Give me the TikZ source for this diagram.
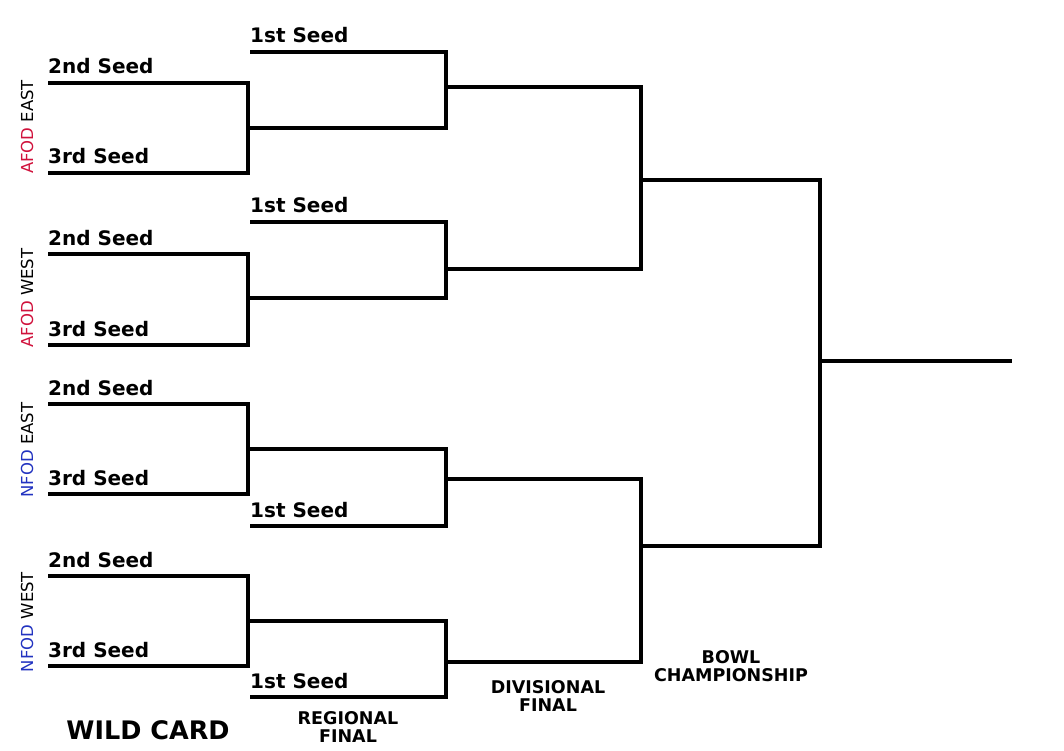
\documentclass[tikz,border=0pt]{standalone}
\usepackage{fontspec}
\setmainfont{DejaVu Sans}
\definecolor{afod}{HTML}{D0123C}
\definecolor{nfod}{HTML}{2233C0}
\begin{document}
\begin{tikzpicture}[x=1pt,y=-1pt,
  bline/.style={line width=4.8pt,line join=miter,line cap=butt},
  seed/.style={anchor=base west,inner sep=0pt,font=\fontsize{20}{20}\selectfont\bfseries},
  conf/.style={rotate=90,inner sep=0pt,font=\fontsize{16.5}{16.5}\selectfont},
  round/.style={align=center,inner sep=0pt,font=\fontsize{17.5}{18}\selectfont\bfseries}]
\useasboundingbox (0,0) rectangle (1064,751);
% ---------- coordinates
% AFOD East
\coordinate (ae2) at (48,83);   \coordinate (ae3) at (48,173);
\coordinate (aeJ) at (248,128); \coordinate (ae1) at (250,52);
\coordinate (aeR) at (446,128); \coordinate (aeK) at (446,87);
% AFOD West
\coordinate (aw2) at (48,254);  \coordinate (aw3) at (48,345);
\coordinate (awJ) at (248,298); \coordinate (aw1) at (250,222);
\coordinate (awR) at (446,298); \coordinate (awK) at (446,269);
% NFOD East
\coordinate (ne2) at (48,404);  \coordinate (ne3) at (48,494);
\coordinate (neJ) at (248,449); \coordinate (ne1) at (250,526);
\coordinate (neR) at (446,449); \coordinate (neK) at (446,479);
% NFOD West
\coordinate (nw2) at (48,576);  \coordinate (nw3) at (48,666);
\coordinate (nwJ) at (248,621); \coordinate (nw1) at (250,697);
\coordinate (nwR) at (446,621); \coordinate (nwK) at (446,662);
% divisional
\coordinate (aD) at (641,180); \coordinate (nD) at (641,546);
\coordinate (C) at (820,361); \coordinate (W) at (1012,361);
% ---------- wild card + regional
\foreach \g in {ae,aw,ne,nw}{
  \draw[bline] (\g2) -| (\g J) |- (\g3);
  \draw[bline] (\g1) -| (\g R) -- (\g J);
}
% ---------- divisional
\draw[bline] (aeK) -| (aD) |- (awK);
\draw[bline] (neK) -| (nD) |- (nwK);
% ---------- championship
\draw[bline] (aD) -| (C) |- (nD);
\draw[bline] (C) -- (W);
% ---------- seed labels
\foreach \g in {ae,aw,ne,nw}{
  \node[seed] (\g2l) at ([yshift=9pt]\g2) {2nd Seed};
  \node[seed] (\g3l) at ([yshift=9pt]\g3) {3rd Seed};
  \node[seed] (\g1l) at ([yshift=9pt]\g1) {1st Seed};
}
% ---------- conference labels
\node[conf] (aeL) at (27,127) {\textcolor{afod}{AFOD} EAST};
\node[conf] (awL) at (27,298) {\textcolor{afod}{AFOD} WEST};
\node[conf] (neL) at (27,450) {\textcolor{nfod}{NFOD} EAST};
\node[conf] (nwL) at (27,622) {\textcolor{nfod}{NFOD} WEST};
% ---------- round labels
\node[inner sep=0pt,font=\fontsize{25.5}{25.5}\selectfont\bfseries] (wc) at (148,730) {WILD CARD};
\node[round] (rf) at (348,727) {REGIONAL\\FINAL};
\node[round] (df) at (548,696) {DIVISIONAL\\FINAL};
\node[round] (bc) at (731,666) {BOWL\\CHAMPIONSHIP};
\end{tikzpicture}
\end{document}
